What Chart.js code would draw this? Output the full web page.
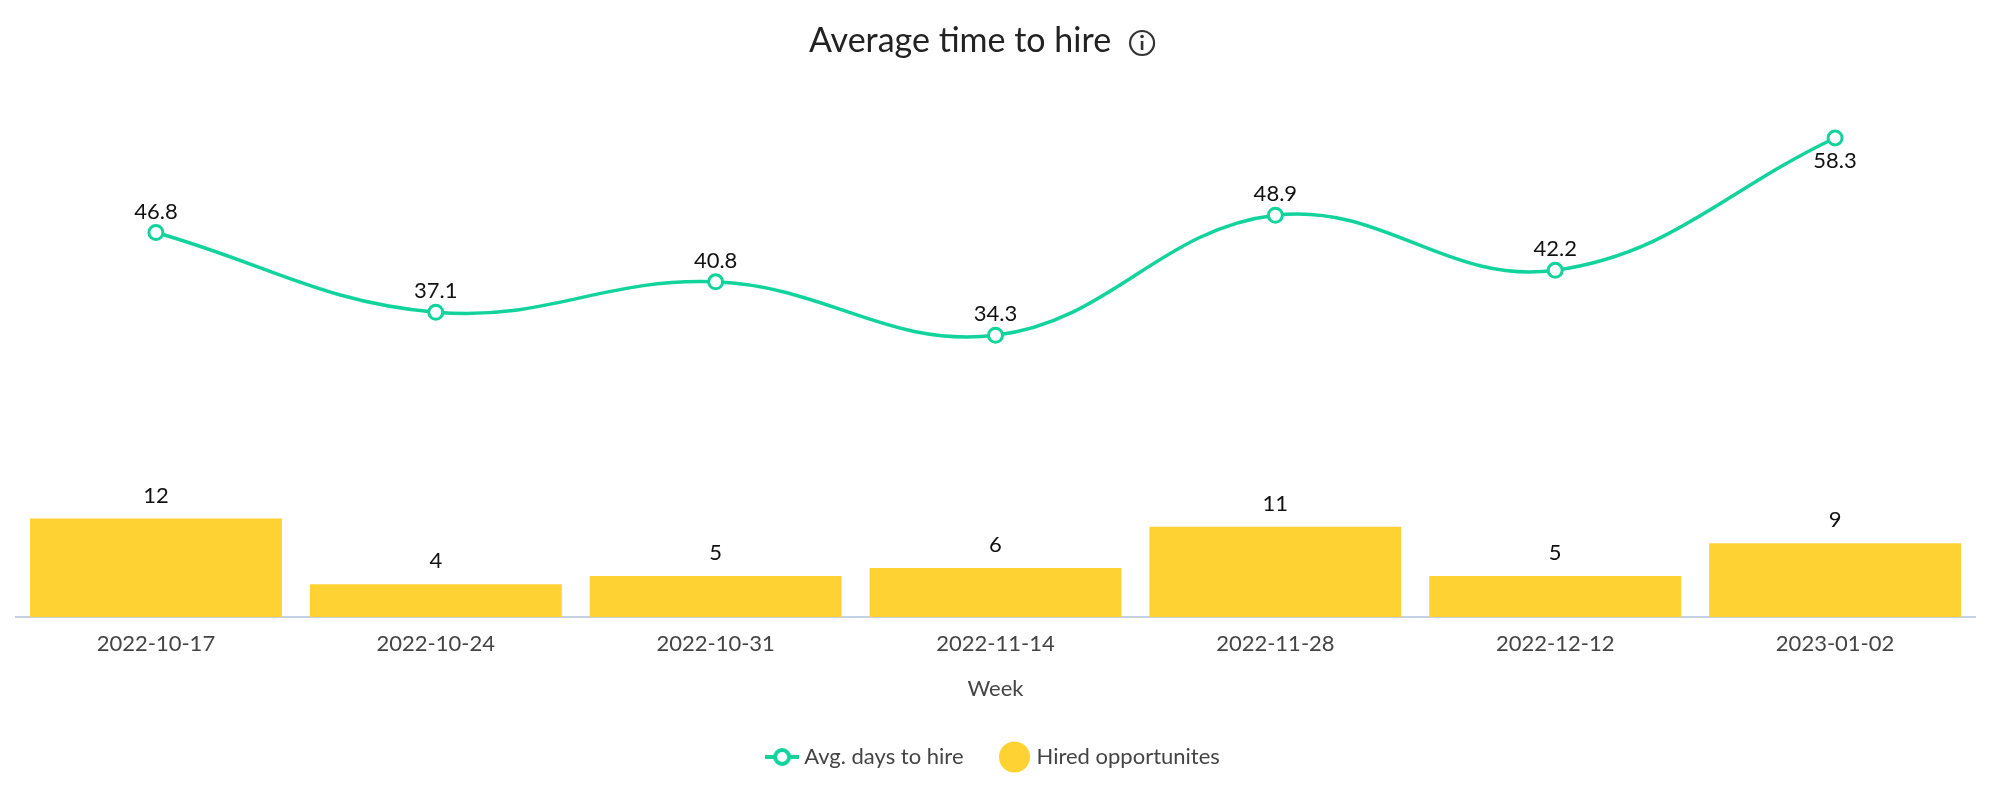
<!DOCTYPE html>
<html><head><meta charset="utf-8">
<script src="https://cdn.jsdelivr.net/npm/chart.js@4"></script>
<style>html,body{margin:0;padding:0;background:#fff;}#w{width:2004px;height:802px;position:relative;}</style>
</head><body><div id="w"><canvas id="c"></canvas></div>
<script>
const weeks = ["2022-10-17","2022-10-24","2022-10-31","2022-11-14","2022-11-28","2022-12-12","2023-01-02"];
const avgDays = [46.8,37.1,40.8,34.3,48.9,42.2,58.3];
const hired = [12,4,5,6,11,5,9];
const TITLE = 'Average time to hire';

const GREEN = '#12d39c', YELLOW = '#fdd232';
const FONT = 'Lato, "Open Sans", sans-serif';

const icon = document.createElement('canvas');
icon.width = 34; icon.height = 22;
(function(){const g=icon.getContext('2d');g.strokeStyle=GREEN;g.lineWidth=4;g.beginPath();g.moveTo(0,11);g.lineTo(34,11);g.stroke();
g.fillStyle='#fff';g.beginPath();g.arc(17,11,7,0,Math.PI*2);g.fill();g.stroke();})();

const labelsPlugin = {
  id:'vals',
  afterDatasetsDraw(chart){
    const ctx = chart.ctx; ctx.save();
    ctx.font = '22px '+FONT; ctx.fillStyle='#111'; ctx.textAlign='center';
    chart.data.datasets.forEach((ds,i)=>{
      const meta = chart.getDatasetMeta(i);
      meta.data.forEach((el,j)=>{
        const v = ds.data[j];
        const txt = ds.type==='line' ? v.toFixed(1) : String(v);
        let y;
        if (ds.type==='line' && j===ds.data.length-1){ ctx.textBaseline='top'; y = el.y+12; }
        else { ctx.textBaseline='bottom'; y = el.y-(ds.type==='line'?10:12); }
        ctx.fillText(txt, el.x, y);
      });
    });
    ctx.font = '34px '+FONT;
    const w = ctx.measureText(TITLE).width;
    const total = w + 18 + 26;
    const x0 = chart.width/2 - total/2 - 20, cy = 41;
    ctx.fillStyle='#222'; ctx.textAlign='left'; ctx.textBaseline='middle';
    ctx.fillText(TITLE, x0, cy);
    const cx = x0 + w + 18 + 13;
    ctx.strokeStyle='#333'; ctx.lineWidth=2.2;
    ctx.beginPath(); ctx.arc(cx,cy+2,12,0,Math.PI*2); ctx.stroke();
    ctx.fillStyle='#333'; ctx.fillRect(cx-1.3,cy,2.6,9); ctx.beginPath(); ctx.arc(cx,cy-4.5,1.8,0,Math.PI*2); ctx.fill();
    ctx.restore();
  }
};

new Chart(document.getElementById('c'), {
  data: {
    labels: weeks,
    datasets: [
      {type:'line', label:'Avg. days to hire', data: avgDays, borderColor: GREEN, borderWidth:3.5,
       tension:0.4, pointRadius:7, pointBorderWidth:3, pointBackgroundColor:'#fff', pointBorderColor:GREEN,
       pointStyle:'circle', order:0},
      {type:'bar', label:'Hired opportunites', data: hired, backgroundColor: YELLOW, barPercentage:0.9, categoryPercentage:1.0,
       order:1}
    ]
  },
  options: {
    responsive:true, maintainAspectRatio:false, animation:false,
    layout:{padding:{left:16,right:29,top:124,bottom:24}},
    plugins:{
      title:{display:false},
      legend:{position:'bottom', labels:{usePointStyle:true, color:'#444', font:{family:FONT,size:22}, padding:40,
        generateLabels(chart){ return chart.data.datasets.map((d,i)=>({text:d.label, fillStyle: i?YELLOW:'#fff', strokeStyle: i?YELLOW:GREEN, lineWidth:0, pointStyle: i?'circle':icon, datasetIndex:i, fontColor:'#444'})); }}},
      tooltip:{enabled:false}
    },
    scales:{
      x:{grid:{display:false, drawTicks:false}, border:{color:'#c5d0e3', width:2},
         ticks:{color:'#444', font:{family:FONT,size:22}, padding:14},
         title:{display:true, text:'Week', color:'#444', font:{family:FONT,size:22}, padding:{top:4}}},
      y:{display:false, min:0, max:60}
    }
  },
  plugins:[labelsPlugin]
});
</script></body></html>
